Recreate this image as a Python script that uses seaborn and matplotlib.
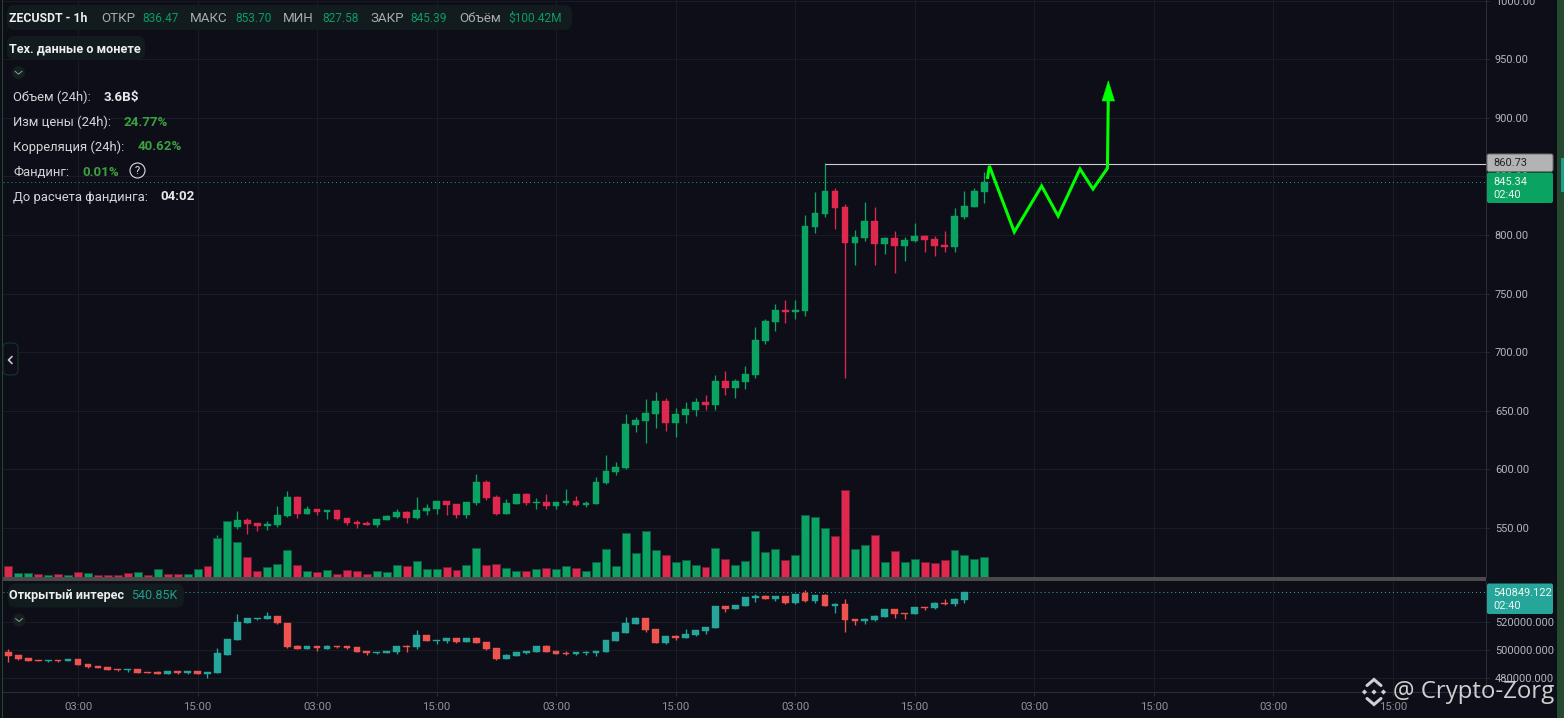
import numpy as np
import pandas as pd
import matplotlib
matplotlib.use("Agg")
import matplotlib.pyplot as plt
from matplotlib.patches import FancyBboxPatch, Rectangle, Circle, Polygon
from matplotlib.transforms import Affine2D
from matplotlib.lines import Line2D
import seaborn as sns

# ---------------- data ----------------
price_start = 21
price_open = [510,541,550.6,556.8,554.3,552,552.6,560.5,576.5,562,566.2,563.7,565.4,558.5,555.1,554.3,552.6,556.8,559.4,563.7,558.5,564.5,566.2,573,570.5,561.1,571.3,589.3,576.5,562,570.5,579,571.3,572.2,568.8,571.3,573,569.6,570.5,588.4,597.8,601.2,637.9,641.3,647.3,658.4,639.6,646.4,650.7,657.5,655,675.4,669.4,674.6,680.5,709.6,725.8,736,734.3,735.1,806.8,817.9,837.5,823.9,793.2,797.4,811.9,792.3,797.4,790.6,794.9,799.1,796.6,791.4,789.7,815.3,823.9,836.47]
price_high = [544,556,564.5,558.8,554.3,556,568.8,581.6,577.3,568.8,566.2,565.4,565.4,558.5,556.8,556,557.7,561.1,566.2,564.5,576.5,570.5,573,573,570.5,572.2,596.1,591,578.2,574.8,579,579.9,575.6,579,572.2,583.3,577.3,573,593.5,612.3,606.3,647.3,644.7,660.1,666,660.9,652.4,657.5,660.9,663.5,680.5,684,677.1,688.2,721.5,728.3,741.1,744.5,744.5,817,836.7,861.1,840.1,826.4,804.2,828.1,823.9,798.3,803.4,798.3,810.2,800,799.1,803.4,823,837.5,840.1,853.7]
price_low = [505,538,549.4,544.9,547.5,548.3,551.2,559.7,558.8,561.7,561.1,557.7,556.8,552.9,550,552.6,550.9,556.8,558.5,554.3,557.7,561.1,562,561.1,558.5,558.5,569.6,573.9,561.1,562,570.5,569.6,566.2,566.2,566.2,569.6,568.8,567.9,570.5,587.5,595.2,600.3,631.9,622.5,635.3,632.8,627.6,639.6,645.6,650.7,650.7,663.5,660.9,668.6,678,707,718.1,724.9,728.3,730.9,801.7,815.3,805.1,678,774.4,794.9,774.4,783.8,767.6,777.8,794,785.5,782.1,785.5,785.5,813.6,823.9,827.58]
price_close = [541,550.6,556.8,553.4,551.7,553.4,561.1,576.5,562,566.2,563.9,565.4,557.7,554.3,553.4,552.6,557.7,560.3,563.7,558.5,565.4,567.1,573,569.6,561.1,572.2,589.3,575.6,562,571.3,579,571.3,572.2,568.8,572.2,573,569.6,571.3,589.3,598.6,602,638.7,642.1,648.1,658.4,639.6,647.3,651.5,657.5,655,675.4,669.4,675.4,681.4,710.4,726.6,736,734.3,736,807.7,818.7,837.5,823,793.2,798.3,811.9,792.3,797.4,790.6,795.7,799.1,795.7,790.6,789.7,816.2,824.7,837.5,845.39]

volume_musd = [56.7,18,18,15,10,15,8,23,18,8,10,10,22,23,12,38,13,15,13,38,55,197,278,173,98,28,52,63,133,58,28,27,35,15,33,28,15,28,25,58,55,82,38,42,52,37,58,143,58,63,43,28,28,38,45,38,53,43,30,75,138,53,218,120,232,133,112,77,85,58,52,145,92,60,78,228,125,138,85,112,308,298,243,205,435,142,158,212,73,132,75,92,75,70,83,133,110,92,100.42]
volume_red = [0,3,5,7,9,10,11,12,14,16,17,20,24,25,29,31,33,34,35,36,40,44,45,48,49,52,54,57,66,70,72,78,83,84,87,89,92,93,94]

oi_open = [498.6,496.4,494.3,492.7,492.2,492.7,492.2,493.6,490.1,488.7,488,486.5,485.8,486.5,484.4,484.4,483,485.1,483.7,485.1,483,483.7,496.4,507,519.1,521.9,521.9,524,519.1,502.8,500.7,502.8,500.7,502.8,502.8,502.1,499.3,497.9,497.9,498.6,502.8,502.1,510.6,506.3,506.3,508.5,505.6,508.5,505.6,501.4,493.6,495.7,497.9,498.6,502.8,499.3,497.9,497.2,497.9,497.9,498.6,506.3,512,518.4,522.6,514.8,504.9,509.9,508.5,510.6,513.4,515.5,531.1,529,531.1,536.7,538.1,536,538.1,533.2,540.3,534.6,538.9,531.1,532.5,521.9,520.7,521.2,523.3,529,526.1,525.4,530.4,529.7,533.2,532.5,535.3]
oi_high = [500.7,496.4,494.3,492.7,492.7,492.7,493.6,493.6,490.1,488.7,488,486.5,486.5,486.5,484.4,485.1,485.1,485.1,485.1,485.1,484.4,501.4,507.7,525.4,522.6,522.6,526.8,524,519.1,503.5,502.8,502.8,503.5,502.8,502.8,502.1,499.3,498.6,499.3,502.8,503.5,514.1,510.6,507,508.5,508.5,508.5,509.2,505.6,501.4,497.2,498.6,499.3,502.8,503.5,499.3,499.3,498.6,499.3,499.3,507,512.7,523.3,523.3,522.6,514.8,509.9,510.6,514.8,514.1,516.2,531.1,531.1,531.8,537.4,539.6,538.9,538.1,538.1,539.6,542.4,538.9,539.6,533.2,536,521.9,522.8,524.7,529,529,526.1,530.4,530.4,533.9,536,536.7,541]
oi_low = [491.5,492.9,492.2,492.2,491.5,491.5,492.2,489.4,487.3,487.3,485.8,485.1,484.4,483.7,483.7,483,483,483,483,483,480.2,483.7,496.4,507,519.1,521.2,521.9,518.4,501.4,500.7,500.7,499.3,500.7,501.4,500.7,498.6,496.4,497.2,497.9,497.2,498.6,500.7,506.3,504.2,504.9,504.9,505.6,504.9,500,492.9,493.6,495.7,497.2,498.6,498.6,497.2,496.4,496.4,496.4,495.7,498.6,506.3,512,518.4,512.7,504.9,504.2,507,508.5,509.9,511.3,515.5,526.8,529,531.1,533.9,536,534.6,532.5,532.5,533.9,533.2,531.1,526.1,512.7,517.6,518.4,520.5,523.3,522.6,521.9,525.4,528.3,529,531.8,531.1,533.2]
oi_close = [495.7,493.6,492.2,492.2,492.7,492.2,493.6,489.4,488,487.3,485.8,485.8,486.5,483.7,483.7,483,485.1,483.7,485.1,483,484.4,497.9,507.7,519.8,522.6,522.6,524,519.1,502.1,500.7,502.8,501.4,502.8,502.1,501.4,498.6,497.9,498.6,499.3,502.8,502.3,510.6,506.3,507,508.5,505.6,508.5,504.9,500.7,493.6,496.4,498.6,499.3,502.8,498.6,497.2,497.2,498.6,498.6,499.3,507,512.7,519.1,522.6,514.1,504.9,509.9,508.5,511.3,514.1,516.2,531.1,529,531.8,537.4,538.1,536,538.1,533.2,539.6,534.6,538.9,531.1,532.5,521.2,520.7,521.9,524,529,525.4,525.7,530.4,529.7,533.2,532.5,536,540.85]

price_ticks = [550,600,650,700,750,800,850,900,950,1000]
oi_ticks = [480,500,520]
oi_tick_labels = ["480000.000","500000.000","520000.000"]
time_positions = [7,19,31,43,55,67,79,91,103,115,127,139]
time_labels = ["03:00","15:00"]*6

level_price = 860.73
last_price = 845.34
last_oi = 540.849
level_from = 82
path_idx = [98.3,98.5,101.0,103.75,105.4,107.6,108.9,110.35,110.44]
path_price = [847.8,858.9,802.6,841.8,816.2,856.3,839.2,856.9,918]
arrow_tip = (110.44,932.2)

header_labels = [("ZECUSDT - 1h",9),("ОТКР",101),("836.47",142),("МАКС",190),("853.70",235),("МИН",283),("827.58",322),("ЗАКР",370),("845.39",410),("Объём",459),("$100.42M",508)]

# ---------------- style ----------------
BG = "#0d0e17"; GRID = "#1a1c25"; AXISC = "#2b2d36"
UP = "#0aa361"; DOWN = "#e0274d"; OI_UP = "#26a69a"; OI_DOWN = "#ef5350"
TICKC = "#b4b6bd"
sns.set_theme(style="darkgrid", rc={"axes.facecolor":BG,"figure.facecolor":BG,"grid.color":GRID,"grid.linewidth":0.72,
    "axes.edgecolor":AXISC,"xtick.color":AXISC,"ytick.color":AXISC,"xtick.bottom":True,"ytick.right":True,"ytick.left":False})
plt.rcParams["font.family"] = ["Roboto","DejaVu Sans"]

W,H = 1564,718
fig = plt.figure(figsize=(W/100,H/100),dpi=100,facecolor=BG)
px = Affine2D().scale(1,-1).translate(0,H)   # picture pixels, origin top-left

def axes_px(x0,y0,x1,y1,**kw):
    return fig.add_axes([x0/W,1-y1/H,(x1-x0)/W,(y1-y0)/H],**kw)

XLIM = (-0.53,148.41)
ax_p = axes_px(3,0,1486.5,577); ax_p.set_zorder(1)
ax_v = axes_px(3,0,1486.5,577,sharex=ax_p); ax_v.set_zorder(2); ax_v.patch.set_alpha(0)
ax_o = axes_px(3,581,1486.5,692,sharex=ax_p); ax_o.set_zorder(1)

def candles(ax,x,o,h,l,c,up,down,width=0.68):
    x,o,h,l,c = map(np.asarray,(x,o,h,l,c))
    colors = [up if ci>=oi else down for oi,ci in zip(o,c)]
    ax.vlines(x,l,h,colors=colors,linewidth=0.95,zorder=3)
    ax.bar(x,np.abs(c-o),bottom=np.minimum(o,c),width=width,color=colors,edgecolor=colors,linewidth=0.3,zorder=4)

candles(ax_p,np.arange(price_start,price_start+len(price_open)),price_open,price_high,price_low,price_close,UP,DOWN)
candles(ax_o,np.arange(len(oi_open)),oi_open,oi_high,oi_low,oi_close,OI_UP,OI_DOWN)

vol = pd.DataFrame({"i":np.arange(len(volume_musd)),"vol":volume_musd})
vol["red"] = vol["i"].isin(volume_red)
for flag,col,edge in [(False,UP,"#0c5a45"),(True,DOWN,"#6e1f38")]:
    sns.barplot(data=vol[vol.red==flag],x="i",y="vol",native_scale=True,color=col,saturation=1,width=0.8,
                edgecolor=edge,linewidth=0.72,errorbar=None,ax=ax_v)

ax_p.set_ylim(508.2,1000.5)
ax_v.set_ylim(0,577*5)
ax_o.set_ylim(470.3,548.8)
for a in (ax_p,ax_v,ax_o):
    a.set_xlim(*XLIM); a.set_xlabel(""); a.set_ylabel("")

ax_v.grid(False); ax_v.set_yticks([]); ax_v.tick_params(bottom=False,labelbottom=False)
for s in ax_v.spines.values(): s.set_visible(False)

ax_p.set_xticks(time_positions); ax_o.set_xticks(time_positions)
ax_o.set_xticklabels(time_labels)
ax_p.tick_params(axis="x",bottom=False,labelbottom=False)
ax_v.tick_params(axis="x",bottom=False,labelbottom=False)
ax_p.set_yticks(price_ticks); ax_p.set_yticklabels([f"{t:.2f}" for t in price_ticks])
ax_o.set_yticks(oi_ticks); ax_o.set_yticklabels(oi_tick_labels)
for a in (ax_p,ax_o):
    a.yaxis.tick_right()
    a.tick_params(axis="y",right=True,left=False,length=2.5,width=0.72,pad=3.5,labelsize=7.9,labelcolor=TICKC,color=AXISC)
    for n,s in a.spines.items():
        s.set_visible(n=="right"); s.set_color(AXISC); s.set_linewidth(0.72)
ax_o.spines["bottom"].set_visible(True); ax_o.spines["bottom"].set_color(AXISC); ax_o.spines["bottom"].set_linewidth(0.72)
ax_o.tick_params(axis="x",bottom=True,length=3,width=0.72,pad=4.5,labelsize=8.2,labelcolor="#8f919a",color=AXISC)

ax_p.axhline(last_price,color=UP,linestyle=(0,(1,2.8)),linewidth=0.75,zorder=2)
ax_p.hlines(level_price,level_from,XLIM[1],color="#cfcfcf",linewidth=0.8,zorder=5)
ax_o.axhline(last_oi,color=OI_UP,linestyle=(0,(1,2.8)),linewidth=0.75,zorder=2)

LIME = "#00ff00"
ax_p.plot(path_idx,path_price,color=LIME,linewidth=2.2,solid_joinstyle="miter",solid_capstyle="butt",zorder=8)
ax_p.annotate("",xy=arrow_tip,xytext=(path_idx[-1],path_price[-1]),zorder=8,
    arrowprops=dict(arrowstyle="-|>,head_length=0.8,head_width=0.25",color=LIME,lw=0.4,shrinkA=0,shrinkB=0,mutation_scale=18))

# ---------------- overlays in picture pixels ----------------
def box(x0,y0,x1,y1,fc,r=3,ec="none",z=20,lw=0.72):
    p = FancyBboxPatch((x0+r,y0+r),x1-x0-2*r,y1-y0-2*r,boxstyle=f"round,pad={r},rounding_size={r}",
                       fc=fc,ec=ec,lw=lw,transform=px,zorder=z)
    fig.add_artist(p); return p
def rect(x0,y0,x1,y1,fc,z=15):
    fig.add_artist(Rectangle((x0,y0),x1-x0,y1-y0,fc=fc,ec="none",transform=px,zorder=z))
def txt(x,y,s,color="#d0d2d6",size=8.6,weight="normal",ha="left",z=30,**kw):
    fig.text(x,y,s,color=color,fontsize=size,fontweight=weight,ha=ha,va="center",transform=px,zorder=z,**kw)

rect(3,577,1486,580.5,"#4a4a4a")
rect(1.5,0,3,718,"#1d4a30")
rect(1557,0,1564,718,"#25492f")
rect(1561,158,1563.5,192,"#1f9c8c",z=16)

# header
box(7,5,572,30,"#121b1d",r=8)
for i,(s,x) in enumerate(header_labels):
    if i==0:
        txt(x,18,s,color="#eceef0",size=8.8,weight="bold")
    elif i%2==1:
        txt(x,18,s,color="#a9abb0",size=9.6)
    else:
        txt(x,18,s,color="#0c9a68",size=8.6)

box(7,36,145,60,"#121b1d",r=8)
txt(9,48.5,"Тех. данные о монете",color="#eceef0",size=9.05,weight="bold")

def chevron(cx,cy):
    fig.add_artist(Circle((cx,cy),6.5,fc="#141f20",ec="none",transform=px,zorder=20))
    fig.add_artist(Line2D([cx-3.5,cx,cx+3.5],[cy-1.5,cy+1.5,cy-1.5],color="#8fa09a",lw=0.7,transform=px,zorder=21))
chevron(18.5,72.7)
chevron(19,620)

rows = [(97,"Объем (24h):",13,"3.6B$",103.5,"#e6e7ea"),
        (122,"Изм цены (24h):",13,"24.77%",124,"#3aa13f"),
        (147,"Корреляция (24h):",13,"40.62%",137.5,"#3aa13f"),
        (172,"Фандинг:",13,"0.01%",82,"#3aa13f"),
        (197,"До расчета фандинга:",13,"04:02",160.5,"#e6e7ea")]
for y,lab,xl,val,xv,c in rows:
    txt(xl,y,lab,color="#d4d5d8",size=9.4)
    txt(xv,y,val,color=c,size=9.6,weight="bold")
fig.add_artist(Circle((137.5,170.5),7.5,fc="none",ec="#e6e7ea",lw=0.75,transform=px,zorder=20))
txt(137.5,170.5,"?",color="#e6e7ea",size=8,ha="center")

# OI chip
box(8,583.5,184,607.5,"#121b1d",r=8)
txt(9,595,"Открытый интерес",color="#eceef0",size=9.05,weight="bold")
txt(131,595.5,"540.85K",color="#1f9c8c",size=9)

# side button
box(3,343,18,375,BG,r=5,ec="#17382a",z=17)
fig.add_artist(Line2D([12,8.5,12],[356.5,360,363.5],color="#c8ccd0",lw=1.2,transform=px,zorder=21))

# price tags
box(1487,154,1553,171.5,"#b3b3b3",r=2,ec="#6f6f6f")
txt(1493,163.5,"860.73",color="#22232a",size=7.9)
box(1487,172.5,1553,203,UP,r=2)
txt(1493,182,"845.34",color="#eef6f1",size=7.9)
txt(1493,195,"02:40",color="#eef6f1",size=7.9)
box(1487,583.5,1553,614,OI_UP,r=2)
txt(1493,593,"540849.122",color="#eef6f1",size=7.9)
txt(1493,606,"02:40",color="#eef6f1",size=7.9)

# watermark with logo
WM = "#cdd0d0"
cx,cy = 1374,692
for dx,dy,r in [(-9.5,0,2.6),(9.5,0,2.6),(0,0,2.6)]:
    fig.add_artist(Polygon([(cx+dx-r,cy+dy),(cx+dx,cy+dy-r),(cx+dx+r,cy+dy),(cx+dx,cy+dy+r)],fc=WM,ec="none",transform=px,zorder=40))
for sgn in (-1,1):
    fig.add_artist(Line2D([cx-7,cx,cx+7],[cy+sgn*6.5,cy+sgn*12.5,cy+sgn*6.5],color=WM,lw=2.2,transform=px,zorder=40,solid_joinstyle="miter"))
txt(1393,692,"@ Crypto-Zorg",color=WM,size=17.3,z=40,family=["Open Sans","DejaVu Sans"])

fig.savefig("out.png",dpi=100,facecolor=BG)
